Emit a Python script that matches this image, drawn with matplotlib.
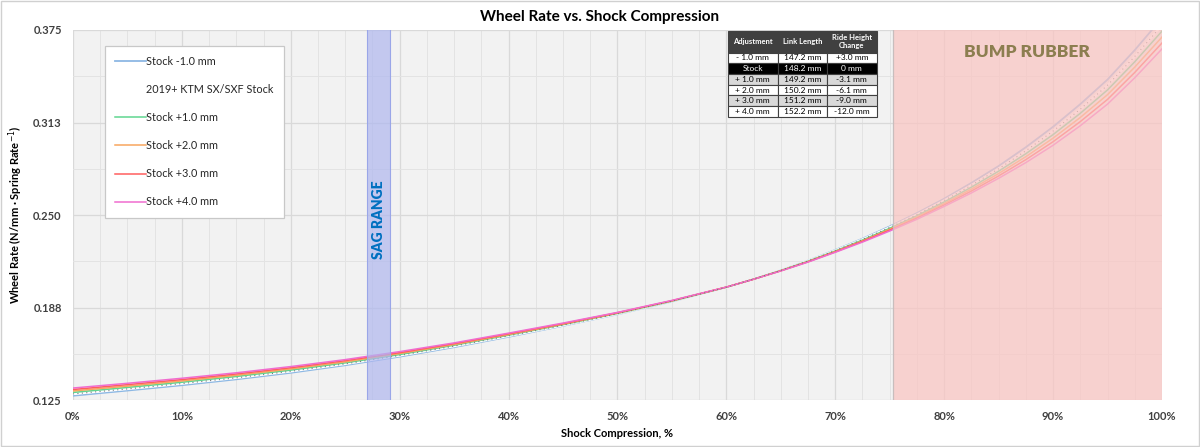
import matplotlib
matplotlib.use("Agg")
import matplotlib.pyplot as plt
from matplotlib.patches import Rectangle

plt.rcParams['font.family'] = ['Lato', 'DejaVu Sans']

# ---------------- data ----------------
compression = [0, 5, 10, 15, 20, 25, 30, 35, 40, 45, 50, 55, 60, 62.5, 65, 67.5, 70, 72.5,
               75, 77.5, 80, 82.5, 85, 87.5, 90, 92.5, 95, 97.5, 100]

stock_m1 = [0.1279, 0.1314, 0.1350, 0.1390, 0.1434, 0.1485, 0.1543, 0.1607, 0.1677, 0.1751,
            0.1829, 0.1915, 0.2012, 0.2067, 0.2127, 0.2192, 0.2264, 0.2340, 0.2423, 0.2513,
            0.2610, 0.2717, 0.2831, 0.2958, 0.3096, 0.3249, 0.3415, 0.3614, 0.3830]
stock = [0.1291, 0.1325, 0.1361, 0.1400, 0.1444, 0.1494, 0.1551, 0.1614, 0.1683, 0.1755,
         0.1832, 0.1917, 0.2012, 0.2067, 0.2126, 0.2190, 0.2260, 0.2335, 0.2416, 0.2503,
         0.2598, 0.2701, 0.2812, 0.2934, 0.3067, 0.3215, 0.3377, 0.3571, 0.3782]
stock_p1 = [0.1301, 0.1335, 0.1370, 0.1409, 0.1452, 0.1501, 0.1557, 0.1620, 0.1688, 0.1759,
            0.1835, 0.1918, 0.2012, 0.2067, 0.2125, 0.2188, 0.2257, 0.2331, 0.2410, 0.2495,
            0.2588, 0.2688, 0.2796, 0.2914, 0.3043, 0.3187, 0.3345, 0.3535, 0.3742]
stock_p2 = [0.1311, 0.1344, 0.1379, 0.1417, 0.1460, 0.1508, 0.1564, 0.1625, 0.1692, 0.1762,
            0.1837, 0.1920, 0.2013, 0.2066, 0.2124, 0.2186, 0.2254, 0.2326, 0.2404, 0.2487,
            0.2578, 0.2675, 0.2780, 0.2894, 0.3019, 0.3159, 0.3313, 0.3499, 0.3702]
stock_p3 = [0.1321, 0.1354, 0.1388, 0.1426, 0.1468, 0.1516, 0.1570, 0.1631, 0.1697, 0.1766,
            0.1840, 0.1921, 0.2013, 0.2066, 0.2123, 0.2184, 0.2251, 0.2322, 0.2398, 0.2479,
            0.2568, 0.2662, 0.2764, 0.2874, 0.2995, 0.3131, 0.3281, 0.3463, 0.3662]
stock_p4 = [0.1331, 0.1363, 0.1397, 0.1434, 0.1476, 0.1523, 0.1577, 0.1636, 0.1702, 0.1770,
            0.1842, 0.1923, 0.2013, 0.2066, 0.2122, 0.2182, 0.2248, 0.2317, 0.2392, 0.2471,
            0.2558, 0.2649, 0.2748, 0.2854, 0.2971, 0.3103, 0.3249, 0.3427, 0.3622]

series_labels = ["Stock -1.0 mm", "2019+ KTM SX/SXF Stock", "Stock +1.0 mm",
                 "Stock +2.0 mm", "Stock +3.0 mm", "Stock +4.0 mm"]

sag_range = [27.0, 29.1]
bump_range = [75.3, 100]

y_ticks = [0.125, 0.1875, 0.25, 0.3125, 0.375]
y_tick_labels = ["0.125", "0.188", "0.250", "0.313", "0.375"]
x_ticks = [0, 10, 20, 30, 40, 50, 60, 70, 80, 90, 100]
x_tick_labels = ["0%", "10%", "20%", "30%", "40%", "50%", "60%", "70%", "80%", "90%", "100%"]

table_header = ["Adjustment", "Link Length", "Ride Height\nChange"]
table_rows = [["- 1.0 mm", "147.2 mm", "+3.0 mm"],
              ["Stock", "148.2 mm", "0 mm"],
              ["+ 1.0 mm", "149.2 mm", "-3.1 mm"],
              ["+ 2.0 mm", "150.2 mm", "-6.1 mm"],
              ["+ 3.0 mm", "151.2 mm", "-9.0 mm"],
              ["+ 4.0 mm", "152.2 mm", "-12.0 mm"]]

# ---------------- figure ----------------
fig = plt.figure(figsize=(12, 4.47), dpi=100)
fig.patch.set_facecolor("white")
fig.patches.append(Rectangle((0.001, 0.002), 0.998, 0.996, transform=fig.transFigure,
                             fill=False, edgecolor="#D0D0D0", lw=1.0))
ax = fig.add_axes([0.0608, 0.1051, 0.9075, 0.8278])
ax.set_facecolor("#F2F2F2")

ax.set_xlim(0, 100)
ax.set_ylim(0.125, 0.375)

# grid
ax.set_xticks(x_ticks)
ax.set_xticklabels(x_tick_labels)
ax.set_xticks([v * 2.5 for v in range(41)], minor=True)
ax.set_yticks(y_ticks)
ax.set_yticklabels(y_tick_labels)
ax.set_yticks([0.125 + 0.03125 * i for i in range(9)], minor=True)
ax.grid(which="major", color="#D9D9D9", lw=0.9)
ax.grid(which="minor", color="#E3E3E3", lw=0.7)
ax.set_axisbelow(True)
ax.tick_params(which="both", length=0)
ax.tick_params(axis="both", labelsize=8, colors="#404040", pad=8)
for lab in ax.get_xticklabels() + ax.get_yticklabels():
    lab.set_fontweight("bold")
for s in ax.spines.values():
    s.set_visible(False)

# lines
lw = 1.1
ax.plot(compression, stock_m1, color="#8DB8E4", lw=1.3, label=series_labels[0], zorder=4)
ax.plot(compression, stock, color="white", lw=1.7, label=series_labels[1], zorder=4)
ax.plot(compression, stock, color="#7A7A7A", lw=0.8, ls=(0, (1, 3)), zorder=4.1)
ax.plot(compression, stock_p1, color="#5FD690", lw=lw, label=series_labels[2], zorder=4)
ax.plot(compression, stock_p2, color="#F8A65E", lw=lw, label=series_labels[3], zorder=4)
ax.plot(compression, stock_p3, color="#FF5E5E", lw=lw, label=series_labels[4], zorder=4)
ax.plot(compression, stock_p4, color="#F06CCF", lw=lw, label=series_labels[5], zorder=4)

# shaded regions (drawn over the lines, translucent)
ax.axvspan(sag_range[0], sag_range[1], facecolor="#AFB7EF", alpha=0.7, edgecolor="none", zorder=5)
ax.axvline(sag_range[0], color="#9AA6E8", lw=0.8, zorder=5)
ax.axvline(sag_range[1], color="#9AA6E8", lw=0.8, zorder=5)
ax.axvspan(bump_range[0], bump_range[1], facecolor="#FAC4C1", alpha=0.7, edgecolor="none", zorder=5)
ax.axvline(bump_range[0], color="#C8BDBD", lw=0.9, zorder=5)
ax.text((sag_range[0] + sag_range[1]) / 2, 0.2465, "SAG RANGE",
        rotation=90, ha="center", va="center", color="#0070C0", fontsize=10, fontweight="heavy", zorder=6)
ax.text(87.6, 0.3600, "BUMP RUBBER", ha="center", va="center", color="#8C7E50",
        fontsize=12.5, fontweight="heavy", zorder=6)

leg = ax.legend(loc="upper left", bbox_to_anchor=(0.029, 0.958), fontsize=7.8, frameon=True,
                fancybox=False, edgecolor="#C8C8C8", facecolor="white", framealpha=1,
                labelspacing=1.58, handlelength=2.9, handletextpad=0.0, borderpad=0.95,
                borderaxespad=0)
leg.get_frame().set_linewidth(0.9)
leg.set_zorder(8)
for t in leg.get_texts():
    t.set_color("#262626")

# title / labels
fig.text(0.5, 0.962, "Wheel Rate vs. Shock Compression", ha="center", va="center",
         fontsize=11, fontweight="bold", color="black")
ax.set_xlabel("Shock Compression, %", fontsize=8, fontweight="bold", color="black", labelpad=4)
ax.set_ylabel("Wheel Rate (N/mm · Spring Rate$^{-1}$)", fontsize=8, fontweight="bold", color="black", labelpad=6)

# table
tab = ax.table(cellText=table_rows, colLabels=table_header, cellLoc="center",
               bbox=[0.6015, 0.765, 0.1365, 0.232], zorder=9)
tab.auto_set_font_size(False)
tab.set_fontsize(6)
row_colors = ["white", "black", "#D9D9D9", "white", "#D9D9D9", "white"]
for (r, c), cell in tab.get_celld().items():
    cell.set_edgecolor("#404040")
    cell.set_linewidth(0.8)
    if r == 0:
        cell.set_facecolor("#404040")
        cell.get_text().set_color("white")
        cell.get_text().set_fontweight("bold")
        cell.get_text().set_fontsize(5.5)
        cell.set_height(2.0)
    else:
        cell.set_height(1.0)
        cell.set_facecolor(row_colors[r - 1])
        cell.get_text().set_color("white" if row_colors[r - 1] == "black" else "black")

fig.savefig("out.png", dpi=100, facecolor="white")
